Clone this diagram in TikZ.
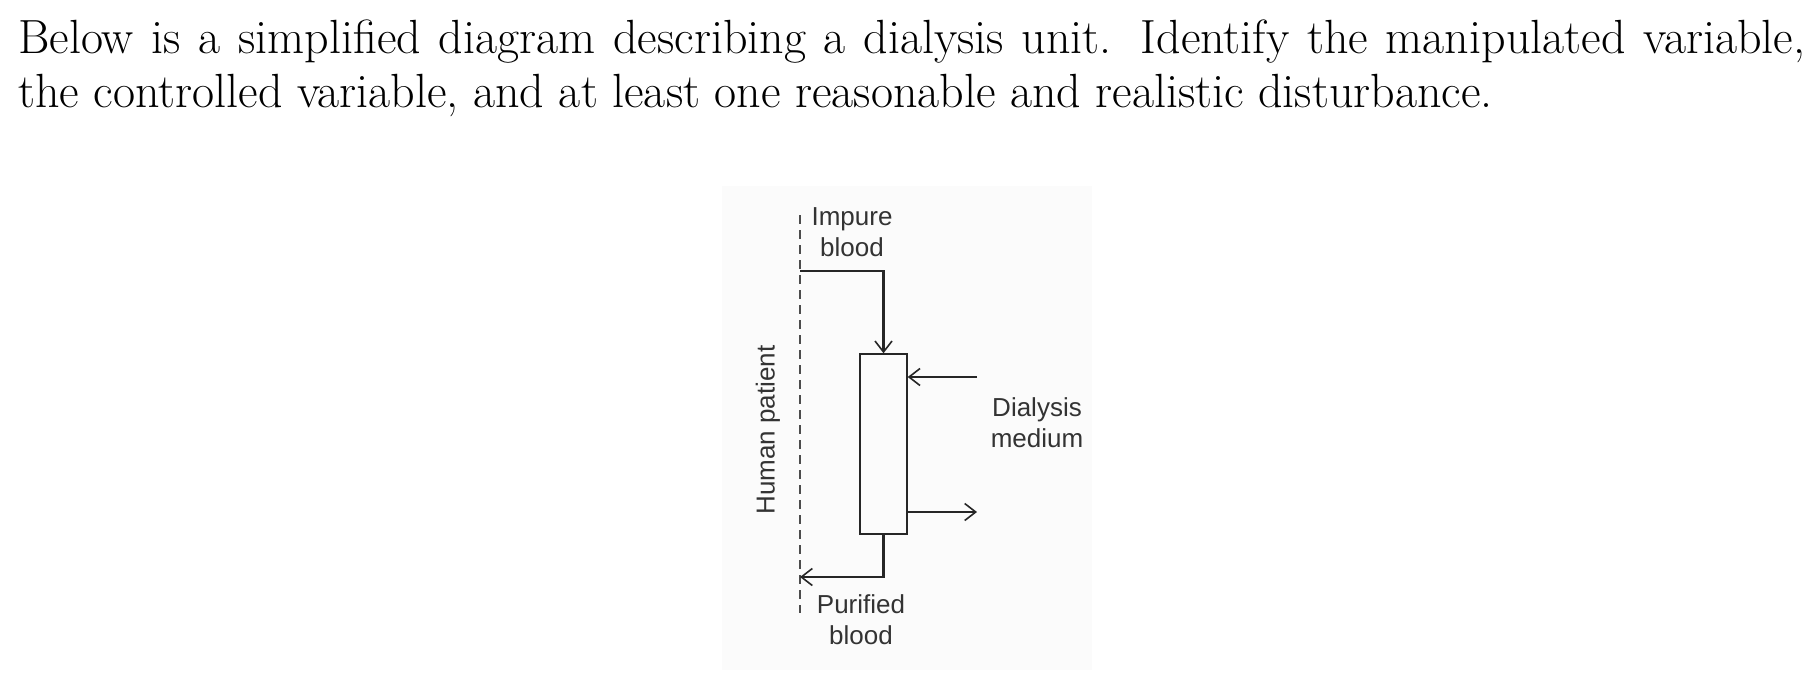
\documentclass[tikz,border=0pt]{standalone}
\usepackage{fontspec}
\newfontfamily\dsans{Liberation Sans}
\usetikzlibrary{arrows.meta}
\begin{document}
\begin{tikzpicture}[x=1pt,y=-1pt,
  pipe/.style={draw=black!85,line width=2.6pt},
  tip/.style={-{Straight Barb[length=11pt,width=17pt,line width=1.6pt]}},
  lbl/.style={font=\dsans\fontsize{26}{31}\selectfont,text=black!80,align=center,inner sep=0pt}]
\useasboundingbox (0,0) rectangle (1819,697);
\fill[black!1.5] (722,186) rectangle (1092,670);
\node[anchor=north west,inner sep=0pt,text width=1787pt,align=justify,font=\fontsize{48}{54}\selectfont] (q) at (18,20)
 {Below is a simplified diagram describing a dialysis unit. Identify the manipulated variable,\linebreak the controlled variable, and at least one reasonable and realistic disturbance.\par};
\coordinate (dtop) at (800,215);
\coordinate (dbot) at (800,613);
\draw[black!70,line width=1.2pt,dash pattern=on 9pt off 6pt] (dtop) -- (dbot);
\node[draw=black!85,line width=1.4pt,minimum width=47pt,minimum height=180pt,inner sep=0pt] (box) at (883.5,444) {};
\coordinate (in) at (800,271);
\coordinate (out) at (800,577);
\draw[pipe,tip] (in) -| (box.north);
\draw[pipe,tip] (box.south) |- (out);
\coordinate (din) at (977,377);
\coordinate (dout) at (977,512);
\draw[pipe,tip] (din) -- (din -| box.east);
\draw[pipe,tip] (dout -| box.east) -- (dout);
\node[lbl] (imp) at (852,232) {Impure\\blood};
\node[lbl] (pur) at (861,620) {Purified\\blood};
\node[lbl] (dm) at (1037,423) {Dialysis\\medium};
\node[lbl,rotate=90] (hp) at (768,430) {Human patient};
\end{tikzpicture}
\end{document}
